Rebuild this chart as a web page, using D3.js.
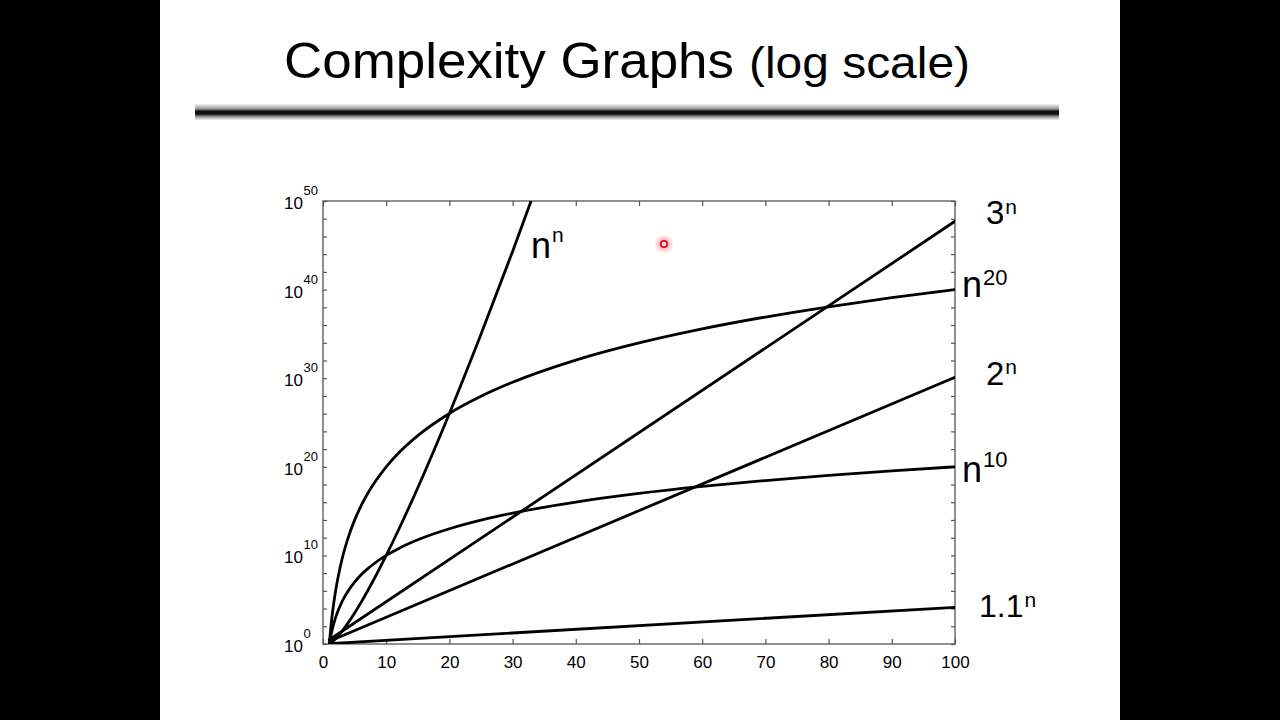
<!DOCTYPE html>
<html>
<head>
<meta charset="utf-8">
<script src="https://cdn.jsdelivr.net/npm/d3@7"></script>
<style>
  html, body { margin: 0; padding: 0; background: #000; }
  svg { display: block; }
  text { font-family: "Liberation Sans", Arial, Helvetica, sans-serif; fill: #000; }
</style>
</head>
<body>
<svg id="chart" width="1280" height="720"></svg>
<script>
// ---- data ----
const titleMain = "Complexity Graphs";
const titleSub = "(log scale)";

const xTicks = [0, 10, 20, 30, 40, 50, 60, 70, 80, 90, 100];
const yTickExps = [0, 10, 20, 30, 40, 50];           // labelled decades
const yMinorExps = d3.range(0, 51, 2);                // small ticks every 2 decades

// sample points (n, value)
const nPoly = [1, 1.25, 1.5, 2, 3, 4, 5, 6, 7, 8, 10, 12, 15, 20, 25, 30, 40, 50, 60, 70, 80, 90, 100];
const n10Values = [1, 9.31, 57.7, 1.024e3, 5.90e4, 1.05e6, 9.77e6, 6.05e7, 2.82e8, 1.07e9, 1e10, 6.19e10,
                   5.77e11, 1.02e13, 9.54e13, 5.90e14, 1.05e16, 9.77e16, 6.05e17, 2.82e18, 1.07e19, 3.49e19, 1e20];
const n20Values = [1, 86.7, 3.33e3, 1.05e6, 3.49e9, 1.10e12, 9.54e13, 3.66e15, 7.98e16, 1.15e18, 1e20, 3.83e21,
                   3.33e23, 1.05e26, 9.09e27, 3.49e29, 1.10e32, 9.54e33, 3.66e35, 7.98e36, 1.15e38, 1.22e39, 1e40];
const nnN = [1, 2, 3, 4, 5, 6, 8, 10, 12, 15, 20, 25, 30, 35];
const nnValues = [1, 4, 27, 256, 3125, 4.67e4, 1.68e7, 1e10, 8.92e12, 4.38e17, 1.05e26, 8.88e34, 2.06e44, 1.1e54];
const expN = [1, 100];
const pow3Values = [3, 5.15e47];
const pow2Values = [2, 1.27e30];
const pow11Values = [1.1, 1.38e4];

const curves = [
  { name: "n^n",   n: nnN,   v: nnValues },
  { name: "3^n",   n: expN,  v: pow3Values },
  { name: "n^20",  n: nPoly, v: n20Values },
  { name: "2^n",   n: expN,  v: pow2Values },
  { name: "n^10",  n: nPoly, v: n10Values },
  { name: "1.1^n", n: expN,  v: pow11Values }
];

// curve labels: base, superscript
const labels = [
  { base: "n",   sup: "n",  x: 531, y: 258, fs: 36, sfs: 21, dy: -16 },
  { base: "3",   sup: "n",  x: 986, y: 224, fs: 33, sfs: 21, dy: -10 },
  { base: "n",   sup: "20", x: 962, y: 297, fs: 36, sfs: 22, dy: -12 },
  { base: "2",   sup: "n",  x: 986, y: 385, fs: 33, sfs: 21, dy: -11 },
  { base: "n",   sup: "10", x: 962, y: 482, fs: 36, sfs: 22, dy: -15 },
  { base: "1.1", sup: "n",  x: 979, y: 617, fs: 32, sfs: 21, dy: -10 }
];

// ---- drawing ----
const svg = d3.select("#chart");
const W = 1280, H = 720;

// slide background
svg.append("rect").attr("x", 0).attr("y", 0).attr("width", W).attr("height", H).attr("fill", "#000");
svg.append("rect").attr("x", 160).attr("y", 0).attr("width", 960).attr("height", H).attr("fill", "#fff");

// title
svg.append("text").attr("x", 284).attr("y", 78).attr("font-size", 50)
  .attr("textLength", 450).attr("lengthAdjust", "spacingAndGlyphs").text(titleMain);
svg.append("text").attr("x", 749).attr("y", 78).attr("font-size", 45)
  .attr("textLength", 221).attr("lengthAdjust", "spacingAndGlyphs").text(titleSub);

// title rule with soft shadow
const defs = svg.append("defs");
const grad = defs.append("linearGradient").attr("id", "rule").attr("x1", 0).attr("y1", 0).attr("x2", 0).attr("y2", 1);
[[0, "#f2f2f2"], [0.3, "#9a9a9a"], [0.45, "#111"], [0.62, "#111"], [0.8, "#9a9a9a"], [1, "#f4f4f4"]]
  .forEach(([o, c]) => grad.append("stop").attr("offset", o).attr("stop-color", c));
svg.append("rect").attr("x", 195).attr("y", 104).attr("width", 864).attr("height", 16).attr("fill", "url(#rule)");

// plot area
const x0 = 323, x1 = 955, yTop = 201, yBot = 644;
const x = d3.scaleLinear().domain([0, 100]).range([x0, x1]);
const y = d3.scaleLog().domain([1, 1e50]).range([yBot, yTop]);

defs.append("clipPath").attr("id", "plotclip")
  .append("rect").attr("x", x0).attr("y", yTop).attr("width", x1 - x0).attr("height", yBot - yTop);

// axes frame
const frameColor = "#555";
svg.append("rect").attr("x", x0).attr("y", yTop).attr("width", x1 - x0).attr("height", yBot - yTop)
  .attr("fill", "none").attr("stroke", frameColor).attr("stroke-width", 1.3);

const tickLen = 5;
// bottom & top axes (ticks inward)
const xb = svg.append("g").attr("transform", `translate(0,${yBot})`)
  .call(d3.axisBottom(x).tickValues(xTicks).tickSize(-tickLen).tickPadding(12).tickFormat(d3.format("d")));
const xt = svg.append("g").attr("transform", `translate(0,${yTop})`)
  .call(d3.axisTop(x).tickValues(xTicks).tickSize(-tickLen).tickFormat(""));
// left & right axes (ticks inward)
const yl = svg.append("g").attr("transform", `translate(${x0},0)`)
  .call(d3.axisLeft(y).tickValues(yMinorExps.map(e => Math.pow(10, e))).tickSize(-4).tickFormat(""));
const yr = svg.append("g").attr("transform", `translate(${x1},0)`)
  .call(d3.axisRight(y).tickValues(yMinorExps.map(e => Math.pow(10, e))).tickSize(-4).tickFormat(""));
[xb, xt, yl, yr].forEach(g => {
  g.select(".domain").remove();
  g.selectAll(".tick line").attr("stroke", frameColor).attr("stroke-width", 1.2);
});
xb.selectAll(".tick text").attr("font-size", 17).attr("font-family", "Liberation Sans, Arial, sans-serif").attr("fill", "#000");

// y labels 10^k
const yLab = svg.append("g");
yTickExps.forEach(e => {
  const yy = y(Math.pow(10, e));
  yLab.append("text").attr("x", 303).attr("y", yy + 8).attr("text-anchor", "end").attr("font-size", 17).text("10");
  yLab.append("text").attr("x", 303.5).attr("y", yy - 6).attr("font-size", 13).text(String(e));
});

// curves
const line = d3.line().x(d => x(d[0])).y(d => y(d[1])).curve(d3.curveMonotoneX);
svg.append("g").attr("clip-path", "url(#plotclip)")
  .selectAll("path").data(curves).join("path")
  .attr("d", c => line(c.n.map((n, i) => [n, c.v[i]])))
  .attr("fill", "none").attr("stroke", "#000").attr("stroke-width", 2.8)
  .attr("stroke-linejoin", "round").attr("stroke-linecap", "round");

// curve labels
labels.forEach(l => {
  const t = svg.append("text").attr("x", l.x).attr("y", l.y);
  t.append("tspan").attr("font-size", l.fs).text(l.base);
  t.append("tspan").attr("font-size", l.sfs).attr("dy", l.dy).attr("dx", 1).text(l.sup);
});

// laser pointer dot
const glow = defs.append("radialGradient").attr("id", "glow");
glow.append("stop").attr("offset", 0).attr("stop-color", "#ff3040").attr("stop-opacity", 0.7);
glow.append("stop").attr("offset", 1).attr("stop-color", "#ff6070").attr("stop-opacity", 0);
svg.append("circle").attr("cx", 664).attr("cy", 244).attr("r", 10).attr("fill", "url(#glow)");
svg.append("circle").attr("cx", 664).attr("cy", 244).attr("r", 3.2).attr("fill", "#fde").attr("stroke", "#d0102a").attr("stroke-width", 1.8);
</script>
</body>
</html>
